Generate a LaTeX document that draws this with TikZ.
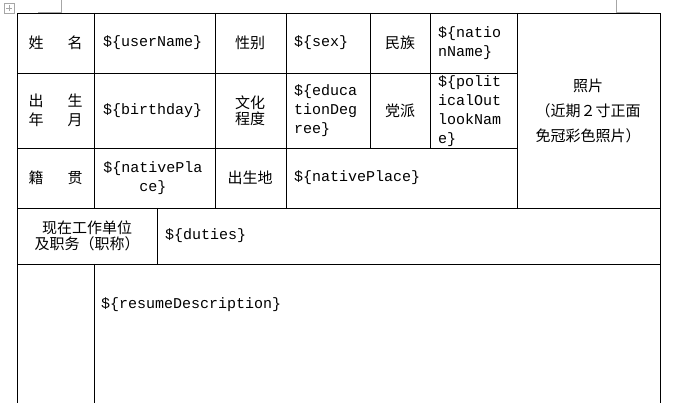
\documentclass[tikz,border=0pt]{standalone}
\usepackage{fontspec}
\setmainfont{Liberation Mono}
\newfontfamily\cjk{Noto Sans CJK SC}
\begin{document}
\begin{tikzpicture}[x=1pt,y=-1pt,
  grid/.style={line width=0.9pt,black},
  lab/.style={font=\fontsize{15}{19}\selectfont\cjk,inner sep=0pt,align=center},
  val/.style={font=\fontsize{15}{19}\selectfont,inner sep=0pt,anchor=west,align=left},
  ui/.style={gray!70,line width=0.6pt}]
\useasboundingbox (0,0) rectangle (685,403);
% UI marks
\draw[ui] (4,3) rectangle (14,13);
\draw[ui] (6,8)--(12,8) (9,5)--(9,11);
\draw[ui] (38,12)--(61,12)--(61,0);
\draw[ui] (616,0)--(616,12)--(640,12);
% grid
\draw[grid] (17,403)--(17,13)--(660,13)--(660,403);
\draw[grid] (17,73)--(517,73) (17,148)--(517,148) (17,208)--(660,208) (17,264)--(660,264);
\draw[grid] (94,13)--(94,208) (215,13)--(215,208) (286,13)--(286,208);
\draw[grid] (370,13)--(370,148) (430,13)--(430,148) (517,13)--(517,208);
\draw[grid] (157,208)--(157,264) (94,264)--(94,403);
% row 1
\node[lab] (n1) at (36,43) {姓};
\node[lab] (n2) at (75,43) {名};
\node[val] (v1) at (103,43) {\$\{userName\}};
\node[lab] (n3) at (250,43) {性别};
\node[val] (v2) at (294,43) {\$\{sex\}};
\node[lab] (n4) at (400,43) {民族};
\node[val] (v3) at (438,43) {\$\{natio\\nName\}};
% row 2
\node[lab] (n5) at (36,101) {出};
\node[lab] (n6) at (75,101) {生};
\node[lab] (n7) at (36,120) {年};
\node[lab] (n8) at (75,120) {月};
\node[val] (v4) at (103,111) {\$\{birthday\}};
\node[lab] (n9) at (250,111) {文化\\[-3pt]程度};
\node[val] (v5) at (294,111) {\$\{educa\\tionDeg\\ree\}};
\node[lab] (n10) at (400,111) {党派};
\node[val] (v6) at (438,111) {\$\{polit\\icalOut\\lookNam\\e\}};
% photo
\node[lab,font=\fontsize{15}{25}\selectfont\cjk] (ph) at (588,111) {照片\\（近期２寸正面\\免冠彩色照片）};
% row 3
\node[lab] (n11) at (36,178) {籍};
\node[lab] (n12) at (75,178) {贯};
\node[val,anchor=center,align=center] (v7) at (153,178) {\$\{nativePla\\ce\}};
\node[lab] (n13) at (250,178) {出生地};
\node[val] (v8) at (294,178) {\$\{nativePlace\}};
% row 4
\node[lab] (n14) at (87,236) {现在工作单位\\[-3pt]及职务（职称）};
\node[val] (v9) at (165,236) {\$\{duties\}};
% row 5
\node[val] (v10) at (101,305) {\$\{resumeDescription\}};
\end{tikzpicture}
\end{document}
